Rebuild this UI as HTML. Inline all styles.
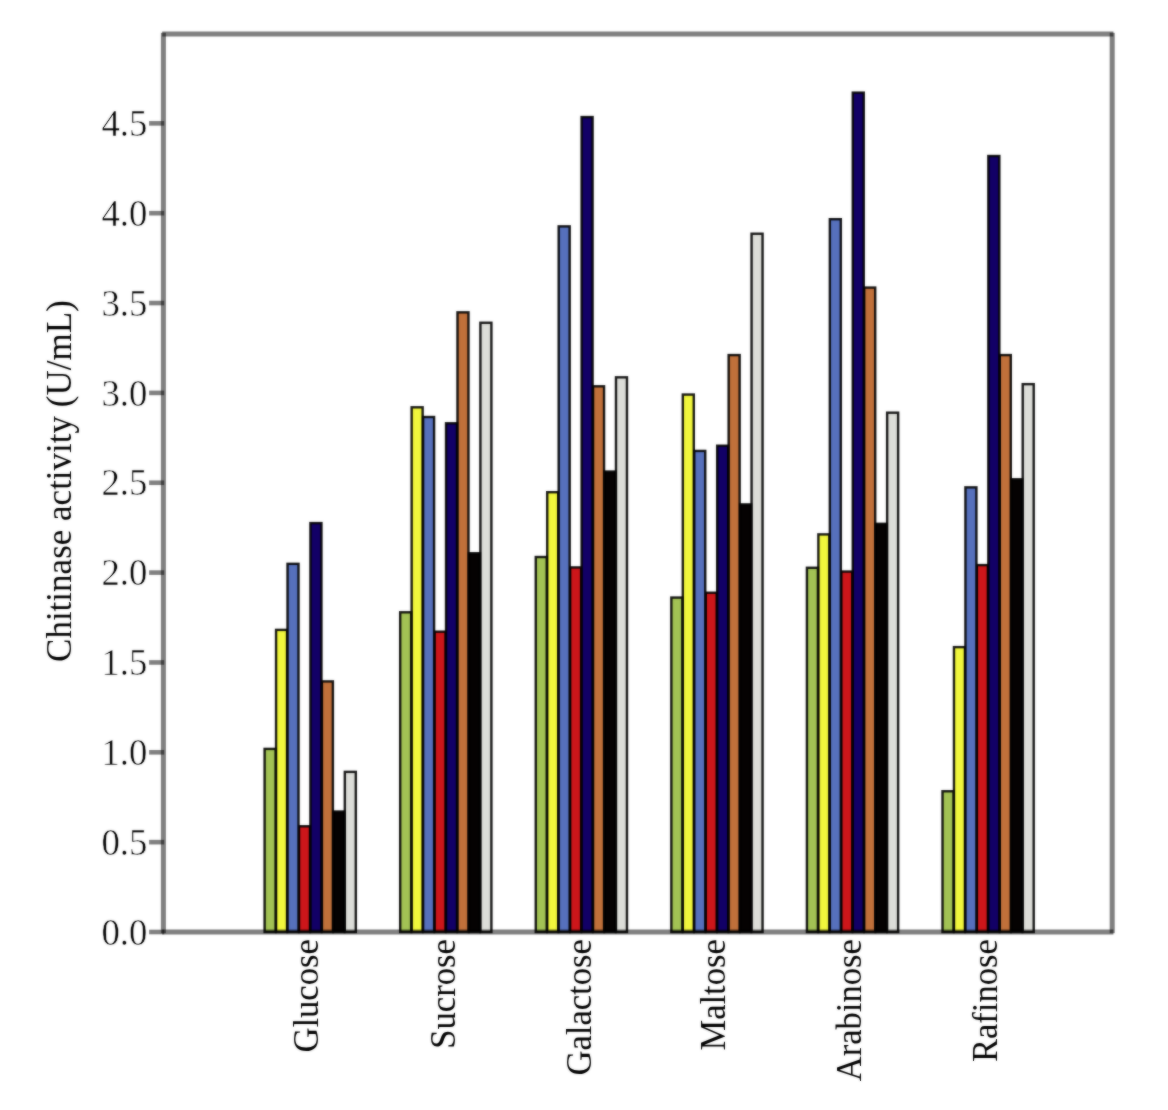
<!DOCTYPE html>
<html lang="en">
<head>
<meta charset="utf-8">
<title>Chitinase activity</title>
<style>
html,body{margin:0;padding:0;background:#fff;}
body{width:1168px;height:1110px;overflow:hidden;}
svg{display:block;}
text{font-family:"Liberation Serif","Times New Roman",serif;font-size:37.4px;fill:#000;}
#ylabels text{stroke:#fff;stroke-width:0.5px;}
.rot{font-size:36.6px;}
.bar{stroke:rgba(0,0,0,0.9);stroke-width:2.4;}
</style>
</head>
<body>
<svg width="1168" height="1110" viewBox="0 0 1168 1110">
<defs><filter id="soft" x="0" y="0" width="1168" height="1110" filterUnits="userSpaceOnUse" color-interpolation-filters="sRGB"><feGaussianBlur in="SourceGraphic" stdDeviation="1" result="b"/><feComposite in="SourceGraphic" in2="b" operator="arithmetic" k1="0" k2="0.5" k3="0.5" k4="0"/></filter></defs>
<g filter="url(#soft)">
<rect x="0" y="0" width="1168" height="1110" fill="#ffffff"/>
<g id="bars">
<rect class="bar" x="276.06" y="629.88" width="11.00" height="302.12" fill="#f0f63c"/>
<rect class="bar" x="298.98" y="826.26" width="11.00" height="105.74" fill="#cc161a"/>
<rect class="bar" x="321.90" y="681.40" width="11.00" height="250.60" fill="#c0703a"/>
<rect class="bar" x="344.82" y="771.87" width="11.00" height="160.13" fill="#dcddd8"/>
<rect class="bar" x="264.60" y="748.89" width="11.00" height="183.11" fill="#a2c254"/>
<rect class="bar" x="287.52" y="563.83" width="11.00" height="368.17" fill="#5670bc"/>
<rect class="bar" x="310.44" y="523.08" width="11.00" height="408.92" fill="#120066"/>
<rect class="bar" x="333.36" y="811.54" width="11.00" height="120.46" fill="#050202"/>
<rect class="bar" x="411.64" y="407.30" width="11.00" height="524.70" fill="#f0f63c"/>
<rect class="bar" x="434.56" y="631.68" width="11.00" height="300.32" fill="#cc161a"/>
<rect class="bar" x="457.48" y="312.35" width="11.00" height="619.65" fill="#c0703a"/>
<rect class="bar" x="480.40" y="322.76" width="11.00" height="609.24" fill="#dcddd8"/>
<rect class="bar" x="400.18" y="612.29" width="11.00" height="319.71" fill="#a2c254"/>
<rect class="bar" x="423.10" y="417.00" width="11.00" height="515.00" fill="#5670bc"/>
<rect class="bar" x="446.02" y="423.28" width="11.00" height="508.72" fill="#120066"/>
<rect class="bar" x="468.94" y="553.24" width="11.00" height="378.76" fill="#050202"/>
<rect class="bar" x="547.22" y="492.21" width="11.00" height="439.79" fill="#f0f63c"/>
<rect class="bar" x="570.14" y="567.42" width="11.00" height="364.58" fill="#cc161a"/>
<rect class="bar" x="593.06" y="386.30" width="11.00" height="545.70" fill="#c0703a"/>
<rect class="bar" x="615.98" y="377.33" width="11.00" height="554.67" fill="#dcddd8"/>
<rect class="bar" x="535.76" y="557.01" width="11.00" height="374.99" fill="#a2c254"/>
<rect class="bar" x="558.68" y="226.37" width="11.00" height="705.63" fill="#5670bc"/>
<rect class="bar" x="581.60" y="117.05" width="11.00" height="814.95" fill="#120066"/>
<rect class="bar" x="604.52" y="471.56" width="11.00" height="460.44" fill="#050202"/>
<rect class="bar" x="682.80" y="394.56" width="11.00" height="537.44" fill="#f0f63c"/>
<rect class="bar" x="705.72" y="592.73" width="11.00" height="339.27" fill="#cc161a"/>
<rect class="bar" x="728.64" y="355.07" width="11.00" height="576.93" fill="#c0703a"/>
<rect class="bar" x="751.56" y="233.73" width="11.00" height="698.27" fill="#dcddd8"/>
<rect class="bar" x="671.34" y="597.57" width="11.00" height="334.43" fill="#a2c254"/>
<rect class="bar" x="694.26" y="450.92" width="11.00" height="481.08" fill="#5670bc"/>
<rect class="bar" x="717.18" y="445.72" width="11.00" height="486.28" fill="#120066"/>
<rect class="bar" x="740.10" y="504.41" width="11.00" height="427.59" fill="#050202"/>
<rect class="bar" x="818.38" y="534.39" width="11.00" height="397.61" fill="#f0f63c"/>
<rect class="bar" x="841.30" y="571.55" width="11.00" height="360.45" fill="#cc161a"/>
<rect class="bar" x="864.22" y="287.58" width="11.00" height="644.42" fill="#c0703a"/>
<rect class="bar" x="887.14" y="412.69" width="11.00" height="519.31" fill="#dcddd8"/>
<rect class="bar" x="806.92" y="567.78" width="11.00" height="364.22" fill="#a2c254"/>
<rect class="bar" x="829.84" y="219.19" width="11.00" height="712.81" fill="#5670bc"/>
<rect class="bar" x="852.76" y="92.64" width="11.00" height="839.36" fill="#120066"/>
<rect class="bar" x="875.68" y="523.80" width="11.00" height="408.20" fill="#050202"/>
<rect class="bar" x="953.96" y="647.12" width="11.00" height="284.88" fill="#f0f63c"/>
<rect class="bar" x="976.88" y="565.08" width="11.00" height="366.92" fill="#cc161a"/>
<rect class="bar" x="999.80" y="355.07" width="11.00" height="576.93" fill="#c0703a"/>
<rect class="bar" x="1022.72" y="384.15" width="11.00" height="547.85" fill="#dcddd8"/>
<rect class="bar" x="942.50" y="791.25" width="11.00" height="140.75" fill="#a2c254"/>
<rect class="bar" x="965.42" y="487.36" width="11.00" height="444.64" fill="#5670bc"/>
<rect class="bar" x="988.34" y="156.00" width="11.00" height="776.00" fill="#120066"/>
<rect class="bar" x="1011.26" y="479.28" width="11.00" height="452.72" fill="#050202"/>
</g>
<g id="frame" fill="rgba(0,0,0,0.5)">
<rect x="160.90" y="32.80" width="5.00" height="900.40"/>
<rect x="1109.70" y="32.80" width="5.00" height="900.40"/>
<rect x="162.20" y="31.50" width="951.20" height="5.00"/>
<rect x="162.20" y="929.50" width="951.20" height="5.00"/>
<rect x="149.1" y="929.70" width="15.10" height="4.60"/>
<rect x="149.1" y="839.85" width="15.10" height="4.60"/>
<rect x="149.1" y="750.00" width="15.10" height="4.60"/>
<rect x="149.1" y="660.15" width="15.10" height="4.60"/>
<rect x="149.1" y="570.30" width="15.10" height="4.60"/>
<rect x="149.1" y="480.45" width="15.10" height="4.60"/>
<rect x="149.1" y="390.60" width="15.10" height="4.60"/>
<rect x="149.1" y="300.75" width="15.10" height="4.60"/>
<rect x="149.1" y="210.90" width="15.10" height="4.60"/>
<rect x="149.1" y="121.05" width="15.10" height="4.60"/>
</g>
<g id="ylabels" text-anchor="end">
<text transform="translate(147.3,944.70) scale(0.982,1)">0.0</text>
<text transform="translate(147.3,854.85) scale(0.982,1)">0.5</text>
<text transform="translate(147.3,765.00) scale(0.982,1)">1.0</text>
<text transform="translate(147.3,675.15) scale(0.982,1)">1.5</text>
<text transform="translate(147.3,585.30) scale(0.982,1)">2.0</text>
<text transform="translate(147.3,495.45) scale(0.982,1)">2.5</text>
<text transform="translate(147.3,405.60) scale(0.982,1)">3.0</text>
<text transform="translate(147.3,315.75) scale(0.982,1)">3.5</text>
<text transform="translate(147.3,225.90) scale(0.982,1)">4.0</text>
<text transform="translate(147.3,136.05) scale(0.982,1)">4.5</text>
</g>
<text id="ytitle" class="rot" text-anchor="middle" transform="translate(70.5,481.1) rotate(-90) scale(0.957,1)">Chitinase activity (U/mL)</text>
<g id="xlabels" text-anchor="end">
<text class="rot" transform="translate(318.20,939.2) rotate(-90) scale(0.945,1)">Glucose</text>
<text class="rot" transform="translate(455.40,939.2) rotate(-90) scale(0.945,1)">Sucrose</text>
<text class="rot" transform="translate(590.50,939.2) rotate(-90) scale(0.945,1)">Galactose</text>
<text class="rot" transform="translate(725.30,939.2) rotate(-90) scale(0.945,1)">Maltose</text>
<text class="rot" transform="translate(861.40,939.2) rotate(-90) scale(0.945,1)">Arabinose</text>
<text class="rot" transform="translate(997.00,939.2) rotate(-90) scale(0.945,1)">Rafinose</text>
</g>
</g>
</svg>
</body>
</html>
